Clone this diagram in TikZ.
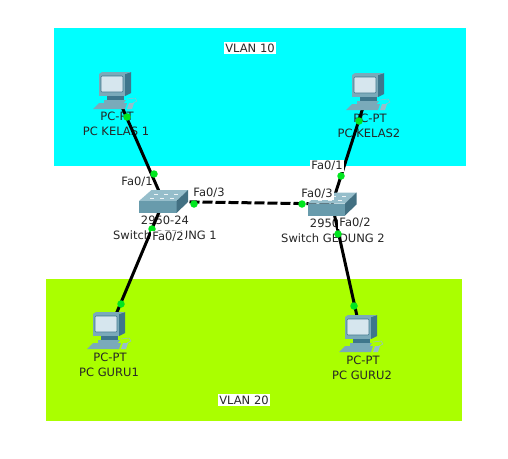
\documentclass[tikz,border=0pt]{standalone}
\usepackage{fontspec}
\setmainfont{DejaVu Sans}
\usepackage{xcolor}
\usetikzlibrary{calc}
\definecolor{Cian}{RGB}{0,255,255}
\definecolor{Lima}{RGB}{170,255,0}
\definecolor{Puerto}{RGB}{0,230,30}
\definecolor{MonA}{RGB}{122,170,186}
\definecolor{MonB}{RGB}{62,118,140}
\definecolor{Layar}{RGB}{214,230,238}
\definecolor{SwA}{RGB}{104,155,172}
\definecolor{SwB}{RGB}{150,190,203}
\definecolor{SwC}{RGB}{66,112,130}
\tikzset{
  pcicon/.pic={
    \fill[MonB] (10,-17)--(16,-19)--(16,2)--(10,5)--cycle;
    \fill[MonA] (-16,-17)--(-13,-19)--(16,-19)--(10,-17)--cycle;
    \fill[MonA] (-16,-17) rectangle (10,5);
    \fill[Layar,draw=MonB,line width=.6pt,rounded corners=1pt] (-14,-15) rectangle (8,1);
    \fill[MonB] (-8,5) rectangle (9,9);
    \fill[MonA] (-11,9)--(11,9)--(8,13)--(-11,13)--cycle;
    \fill[MonA] (-22,18)--(-16,12)--(12,12)--(10,18)--cycle;
    \fill[SwB] (14,12)--(19,12)--(17,18)--(12,18)--cycle;
    \draw[SwB,line width=.5pt] (12,8)--(20,7)--(22,10)--(18,12);
  },
  swicon/.pic={
    \fill[SwB] (-24.5,-.5)--(-12,-11.5)--(24.5,-11.5)--(13,-.5)--cycle;
    \fill[SwA] (-24.5,-.5) rectangle (13,11.5);
    \fill[SwC] (13,-.5)--(24.5,-11.5)--(24.5,.5)--(13,11.5)--cycle;
    \foreach \x/\y in {-10/-8,0/-8,10/-8,-14/-4,-4/-4,6/-4}
      \fill[white!85!SwB] (\x,\y) rectangle ++(4,1.2);
  }}
\begin{document}
\begin{tikzpicture}[
    x=1pt,y=-1pt,
    lbl/.style ={font=\fontsize{11.5}{13}\selectfont,inner sep=0pt,text=black!85},
    lblw/.style={lbl,fill=white,inner sep=1.5pt},
    dev/.style ={minimum width=44pt,minimum height=38pt,inner sep=0pt},
    sw/.style  ={minimum width=49pt,minimum height=23pt,inner sep=0pt},
    port/.style={circle,fill=Puerto,inner sep=0pt,minimum size=7.5pt},
    kabel/.style={black,line width=3pt}]
  \useasboundingbox (0,0) rectangle (508,458);
  \fill[Cian] (54,28) rectangle (466,166);
  \fill[Lima] (46,279) rectangle (462,421);
  % devices
  \node[dev] (kelas1) at (115,91) {};
  \node[dev] (kelas2) at (368,92) {};
  \node[dev] (guru1)  at (109,331) {};
  \node[dev] (guru2)  at (361,334) {};
  \node[sw]  (sw1)    at (163.5,201.5) {};
  \node[sw]  (sw2)    at (332,204) {};
  % names
  \node[lbl] (t1) at (117,116) {PC-PT};
  \node[lbl] (n1) at (116,131) {PC KELAS 1};
  \node[lbl] (t2) at (370,118) {PC-PT};
  \node[lbl] (n2) at (369,133) {PC KELAS2};
  \node[lbl] (t3) at (110,357) {PC-PT};
  \node[lbl] (n3) at (109,372) {PC GURU1};
  \node[lbl] (t4) at (363,360) {PC-PT};
  \node[lbl] (n4) at (362,375) {PC GURU2};
  \node[lbl] (t5) at (165,220) {2950-24};
  \node[lbl] (n5) at (165,235.5) {Switch GEDUNG 1};
  \node[lbl] (t6) at (334,223) {2950-24};
  \node[lbl] (n6) at (333,238) {Switch GEDUNG 2};
  % links
  \foreach \a/\b in {kelas1/sw1,sw1/guru1,kelas2/sw2,sw2/guru2}
    \draw[kabel] (\a.center)--(\b.center);
  \draw[kabel,dash pattern=on 10pt off 3pt] (sw1.center)--(sw2.center);
  \foreach \a in {kelas1,kelas2,guru1,guru2}
    \pic at (\a) {pcicon};
  \foreach \a in {sw1,sw2}
    \pic at (\a) {swicon};
  \foreach \n/\p in {a/{127,117},b/{154,174},c/{194,204},d/{302,204},
                     e/{152,229},f/{121,304},g/{359,121},h/{341,176},
                     i/{338,234},j/{354,306}}
    \node[port] (p\n) at (\p) {};
  % port labels
  \node[lbl]  (f1) at (137,182) {Fa0/1};
  \node[lbl]  (f2) at (209,193) {Fa0/3};
  \node[lblw] (f3) at (168,237) {Fa0/2};
  \node[lblw] (f4) at (327,166) {Fa0/1};
  \node[lblw] (f5) at (317,194) {Fa0/3};
  \node[lblw] (f6) at (355,223) {Fa0/2};
  \node[lblw] (v1) at (250,48)  {VLAN 10};
  \node[lblw] (v2) at (244,400) {VLAN 20};
\end{tikzpicture}
\end{document}
